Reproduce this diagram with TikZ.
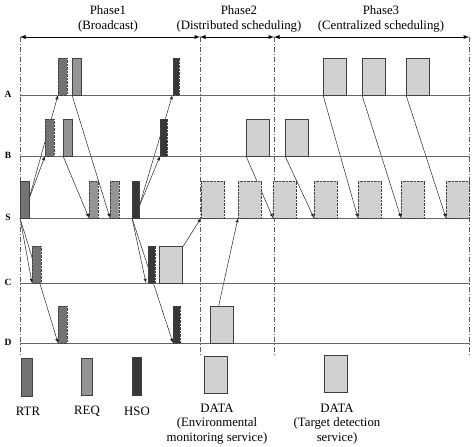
\documentclass[tikz,border=0pt]{standalone}
\usepackage{fontspec}
\setmainfont{Liberation Serif}
\usetikzlibrary{backgrounds}
\begin{document}
\begin{tikzpicture}[x=1pt,y=-1pt,
  font=\fontsize{12.8}{14.5}\selectfont,
  pkt/.style={rectangle,draw=black!75,inner sep=0pt,minimum height=37pt,anchor=south west},
  rtr/.style={pkt,fill=black!55,minimum width=8.5pt},
  req/.style={pkt,fill=black!42,minimum width=9pt},
  hso/.style={pkt,fill=black!78,minimum width=6.5pt},
  data/.style={pkt,fill=black!18,minimum width=23pt},
  rx/.style={densely dotted},
  msg/.style={-latex,black!85,line width=0.5pt},
  phase/.style={latex-latex,line width=0.9pt},
  bound/.style={black!65,line width=0.6pt,dash pattern=on 5pt off 2pt on 1pt off 2pt},
  row/.style={black!60,line width=0.7pt},
  lbl/.style={font=\fontsize{9.5}{10}\selectfont\bfseries}]
\useasboundingbox (0,0) rectangle (474,447);
\def\yA{95}
\def\yB{156}
\def\yS{218}
\def\yC{283}
\def\yD{343}

\node[align=center] (p1) at (108,19) {Phase1\\(Broadcast)};
\node[align=center] (p2) at (239,19) {Phase2\\(Distributed scheduling)};
\node[align=center] (p3) at (381,19) {Phase3\\(Centralized scheduling)};

\coordinate (t0) at (20,37);
\coordinate (t1) at (200,37);
\coordinate (t2) at (274,37);
\coordinate (t3) at (469,37);
\coordinate (b0) at (20,355);
\coordinate (b1) at (200,355);
\coordinate (b2) at (274,355);
\coordinate (b3) at (469,357);
\draw[bound] (t0) -- (b0);
\draw[bound] (t1) -- (b1);
\draw[bound] (t2) -- (b2);
\draw[bound] (t3) -- (b3);
\draw[phase] (t0) -- (t1);
\draw[phase] (t1) -- (t2);
\draw[phase] (t2) -- (t3);

\draw[row] (20,\yA) -- (470,\yA);
\draw[row] (20,\yB) -- (470,\yB);
\draw[row] (20,\yS) -- (470,\yS);
\draw[row] (20,\yC) -- (470,\yC);
\draw[row] (20,\yD) -- (470,\yD);
\node[lbl] (lA) at (8,94) {A};
\node[lbl] (lB) at (8,155) {B};
\node[lbl] (lS) at (8,217) {S};
\node[lbl] (lC) at (8,282) {C};
\node[lbl] (lD) at (8,342) {D};

\node[rtr,rx] (aR) at (58,\yA) {};
\node[req] (aQ) at (72,\yA) {};
\node[hso,rx] (aH) at (172.5,\yA) {};
\node[data] (aD1) at (323,\yA) {};
\node[data] (aD2) at (362,\yA) {};
\node[data] (aD3) at (406,\yA) {};

\node[rtr,rx] (bR) at (45,\yB) {};
\node[req] (bQ) at (63,\yB) {};
\node[hso,rx] (bH) at (160,\yB) {};
\node[data] (bD1) at (246,\yB) {};
\node[data] (bD2) at (285,\yB) {};

\node[rtr] (sR) at (20,\yS) {};
\node[req,rx] (sQ1) at (89,\yS) {};
\node[req,rx] (sQ2) at (110,\yS) {};
\node[hso] (sH) at (132,\yS) {};
\node[data,rx] (sD1) at (201,\yS) {};
\node[data,rx] (sD2) at (238,\yS) {};
\node[data,rx] (sD3) at (273,\yS) {};
\node[data,rx] (sD4) at (314,\yS) {};
\node[data,rx] (sD5) at (358,\yS) {};
\node[data,rx] (sD6) at (401,\yS) {};
\node[data,rx] (sD7) at (446,\yS) {};

\node[rtr,rx] (cR) at (32,\yC) {};
\node[hso,rx] (cH) at (148,\yC) {};
\node[data] (cD) at (159,\yC) {};

\node[rtr,rx] (dR) at (58,\yD) {};
\node[hso,rx] (dH) at (173,\yD) {};
\node[data] (dD) at (210,\yD) {};

\begin{scope}[on background layer]
\draw[msg] (sR.east) -- (bR.south west);
\draw[msg] (sR.east) -- (aR.south west);
\draw[msg] (sR.south west) -- (cR.south west);
\draw[msg] (sR.south west) -- (dR.south west);
\draw[msg] (aQ.south west) -- (sQ2.south west);
\draw[msg] (bQ.south west) -- (sQ1.south west);
\draw[msg] ([yshift=-8pt]sH.east) -- (bH.south west);
\draw[msg] ([yshift=-8pt]sH.east) -- (aH.south west);
\draw[msg] (sH.south west) -- ([xshift=-2pt]cH.south west);
\draw[msg] (sH.south west) -- (dH.south west);
\draw[msg] ([yshift=-2pt]cD.north east) -- (sD1.south west);
\draw[msg] ([xshift=-3pt]dD.north) -- (sD2.south west);
\draw[msg] (bD1.south west) -- (sD3.south west);
\draw[msg] (bD2.south west) -- (sD4.south west);
\draw[msg] (aD1.south west) -- (sD5.south west);
\draw[msg] (aD2.south west) -- (sD6.south west);
\draw[msg] (aD3.south west) -- (sD7.south west);
\end{scope}

\node[rtr,minimum width=11pt,minimum height=38pt] (kR) at (21,396) {};
\node[req,minimum width=11pt,minimum height=37pt] (kQ) at (81,395) {};
\node[hso,minimum width=9pt,minimum height=38pt] (kH) at (132,395) {};
\node[data] (kD1) at (204,393) {};
\node[data] (kD2) at (324,392) {};
\node (tR) at (28,411) {RTR};
\node (tQ) at (87,411) {REQ};
\node (tH) at (137,411) {HSO};
\node[align=center] (tD1) at (217,424) {DATA\\(Environmental\\monitoring service)};
\node[align=center] (tD2) at (337,424) {DATA\\(Target detection\\service)};
\end{tikzpicture}
\end{document}
